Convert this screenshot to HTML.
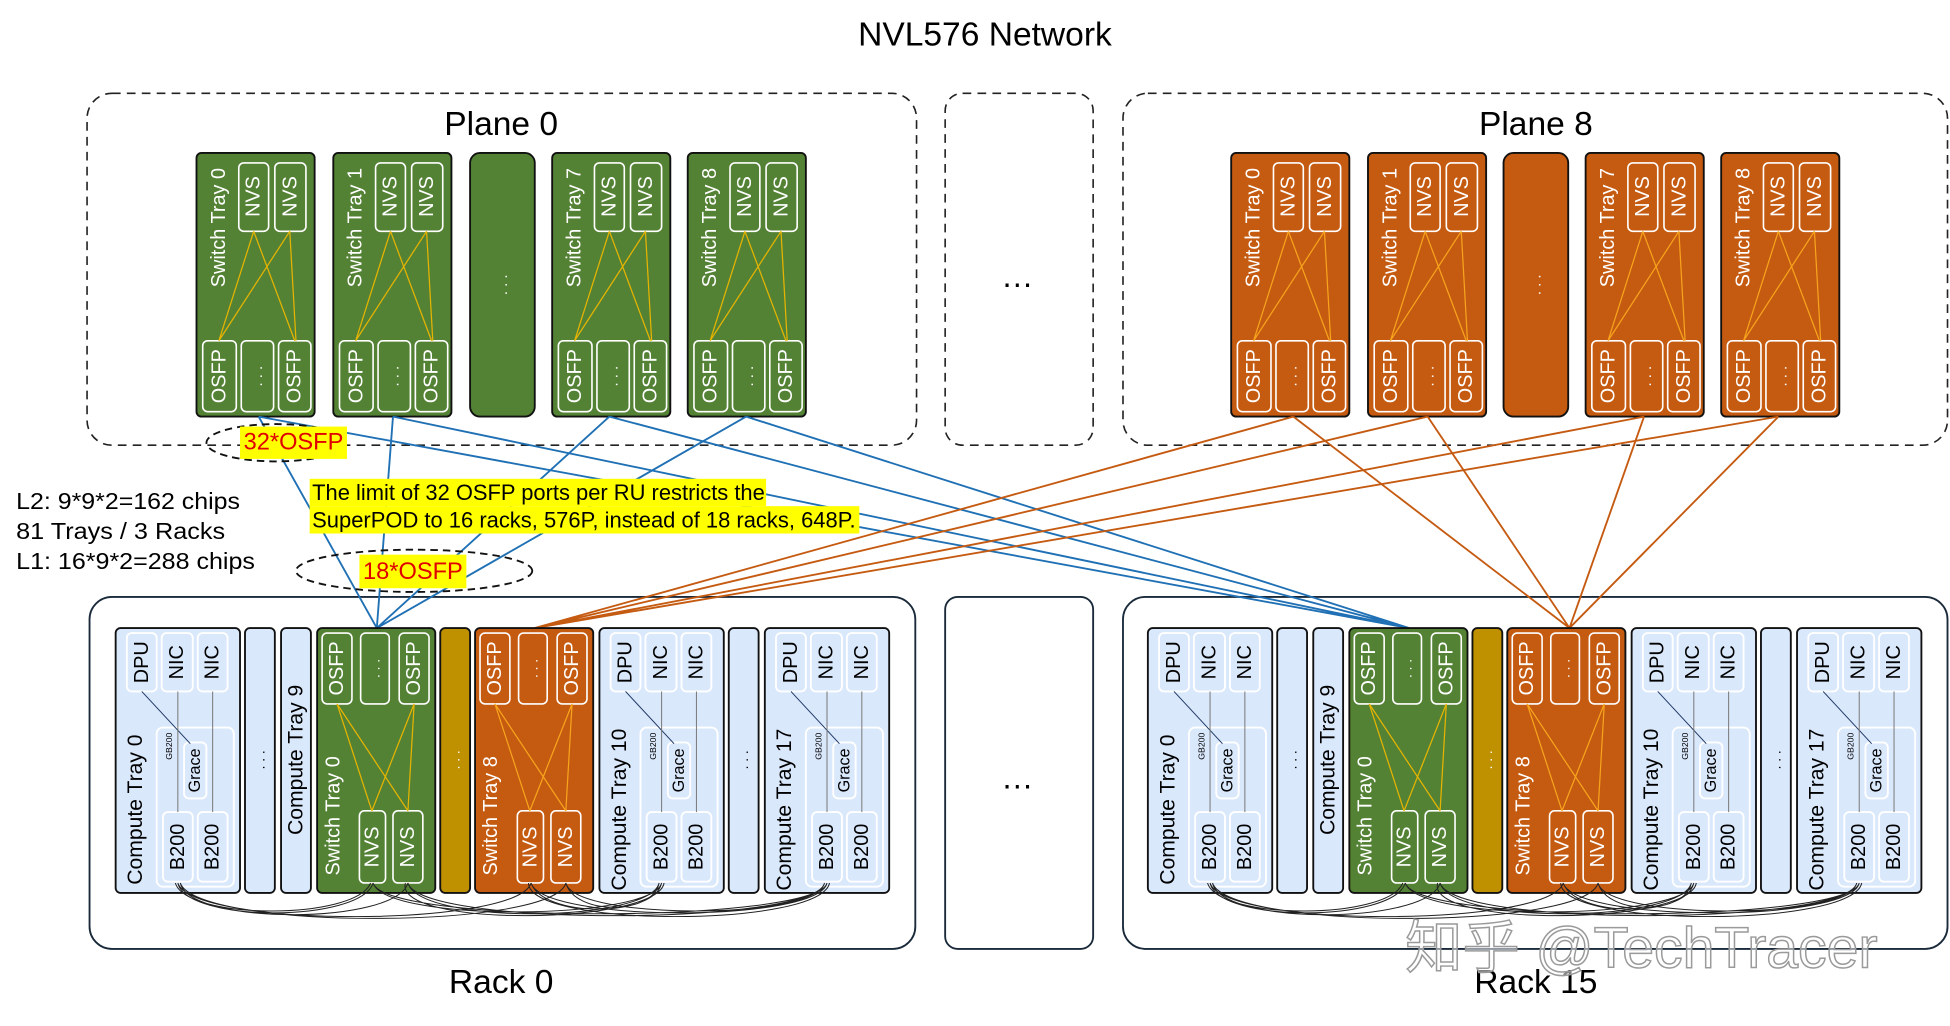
<!DOCTYPE html>
<html><head><meta charset="utf-8"><style>
html,body{margin:0;padding:0;background:#fff;}
svg{display:block;}
text{font-family:"Liberation Sans","Noto Sans CJK SC",sans-serif;}
.w{fill:#fff;font-size:16px;text-anchor:middle;dominant-baseline:central;}
.k{fill:#000;font-size:17px;text-anchor:middle;dominant-baseline:central;}
.ib{fill:none;stroke:#fff;stroke-width:1.3;}
.ibb{fill:#dae8fc;stroke:#fff;stroke-width:1.5;}
.g{fill:#548235;stroke:#111;stroke-width:1.5;}
.o{fill:#c55a11;stroke:#111;stroke-width:1.5;}
.c{fill:#dae8fc;stroke:#111;stroke-width:1.5;}
.yl{stroke:#e6b400;stroke-width:1;fill:none;}
.ol{stroke:#f7a41d;stroke-width:1;fill:none;}
.bl{stroke:#1f70b4;stroke-width:1.5;fill:none;}
.rl{stroke:#c55a11;stroke-width:1.5;fill:none;}
.cv{stroke:#222;stroke-width:0.8;fill:none;}
</style></head><body>
<svg width="1950" height="1026" viewBox="0 0 1568 825" preserveAspectRatio="none" xmlns="http://www.w3.org/2000/svg">
<defs>
<g id="ptG">
<rect x="0" y="123" width="95" height="212" rx="4" class="g"/>
<rect x="34" y="131" width="24" height="55" rx="4" class="ib"/>
<rect x="63" y="131" width="25" height="55" rx="4" class="ib"/>
<rect x="5" y="274" width="27" height="57" rx="4" class="ib"/>
<rect x="36" y="274" width="26" height="57" rx="4" class="ib"/>
<rect x="66" y="274" width="26" height="57" rx="4" class="ib"/>
<path class="yl" d="M46 186L18 274M46 186L79 274M75 186L18 274M75 186L80 274"/>
</g>
<g id="ptO">
<rect x="0" y="123" width="95" height="212" rx="4" class="o"/>
<rect x="34" y="131" width="24" height="55" rx="4" class="ib"/>
<rect x="63" y="131" width="25" height="55" rx="4" class="ib"/>
<rect x="5" y="274" width="27" height="57" rx="4" class="ib"/>
<rect x="36" y="274" width="26" height="57" rx="4" class="ib"/>
<rect x="66" y="274" width="26" height="57" rx="4" class="ib"/>
<path class="ol" d="M46 186L18 274M46 186L79 274M75 186L18 274M75 186L80 274"/>
</g>
<g id="rsG">
<rect x="0" y="505" width="95" height="213" rx="4" class="g"/>
<rect x="4" y="509" width="24" height="57" rx="4" class="ib"/>
<rect x="35" y="509" width="23" height="57" rx="4" class="ib"/>
<rect x="66" y="509" width="24" height="57" rx="4" class="ib"/>
<rect x="34" y="652" width="21" height="58" rx="4" class="ib"/>
<rect x="61" y="652" width="24" height="58" rx="4" class="ib"/>
<path class="yl" d="M16 566L44 652M16 566L73 652M78 566L44 652M78 566L73 652"/>
</g>
<g id="rsO">
<rect x="0" y="505" width="95" height="213" rx="4" class="o"/>
<rect x="4" y="509" width="24" height="57" rx="4" class="ib"/>
<rect x="35" y="509" width="23" height="57" rx="4" class="ib"/>
<rect x="66" y="509" width="24" height="57" rx="4" class="ib"/>
<rect x="34" y="652" width="21" height="58" rx="4" class="ib"/>
<rect x="61" y="652" width="24" height="58" rx="4" class="ib"/>
<path class="ol" d="M16 566L44 652M16 566L73 652M78 566L44 652M78 566L73 652"/>
</g>
<g id="ct">
<rect x="0" y="505" width="100" height="213" rx="4" class="c"/>
<rect x="9" y="509" width="24" height="47" rx="4" class="ibb"/>
<rect x="37" y="509" width="25" height="47" rx="4" class="ibb"/>
<rect x="66" y="509" width="24" height="47" rx="4" class="ibb"/>
<rect x="33" y="585" width="62" height="128" rx="5" class="ibb"/>
<rect x="55" y="597" width="18" height="45" rx="4" class="ibb"/>
<rect x="38" y="653" width="24" height="56" rx="4" class="ibb"/>
<rect x="66" y="653" width="24" height="56" rx="4" class="ibb"/>
<path d="M21 556L60 598" stroke="#1f3864" stroke-width="0.8"/>
<path d="M50 556V653M78 556V653" stroke="#777" stroke-width="0.8"/>
</g>
</defs>

<text x="792" y="28" class="k" style="font-size:27px">NVL576 Network</text>

<rect x="70" y="75" width="667" height="283" rx="20" fill="none" stroke="#222" stroke-width="1.3" stroke-dasharray="7,5"/>
<rect x="760" y="75" width="119" height="283" rx="14" fill="none" stroke="#222" stroke-width="1.3" stroke-dasharray="7,5"/>
<rect x="903" y="75" width="663" height="283" rx="20" fill="none" stroke="#222" stroke-width="1.3" stroke-dasharray="7,5"/>
<text x="403" y="100" class="k" style="font-size:27px">Plane 0</text>
<text x="1235" y="100" class="k" style="font-size:27px">Plane 8</text>
<text x="818" y="222" class="k" style="font-size:26px">…</text>

<g transform="translate(158,0)"><use href="#ptG"/><text class="w" transform="translate(18,183) rotate(-90)">Switch Tray 0</text><text class="w" transform="translate(46,158) rotate(-90)">NVS</text><text class="w" transform="translate(75.5,158) rotate(-90)">NVS</text><text class="w" transform="translate(18.5,302.5) rotate(-90)">OSFP</text><text class="w" transform="translate(49,302.5) rotate(-90)" style="font-size:12px">. . .</text><text class="w" transform="translate(79,302.5) rotate(-90)">OSFP</text></g>
<g transform="translate(268,0)"><use href="#ptG"/><text class="w" transform="translate(18,183) rotate(-90)">Switch Tray 1</text><text class="w" transform="translate(46,158) rotate(-90)">NVS</text><text class="w" transform="translate(75.5,158) rotate(-90)">NVS</text><text class="w" transform="translate(18.5,302.5) rotate(-90)">OSFP</text><text class="w" transform="translate(49,302.5) rotate(-90)" style="font-size:12px">. . .</text><text class="w" transform="translate(79,302.5) rotate(-90)">OSFP</text></g>
<rect x="378" y="123" width="52" height="212" rx="8" class="g"/><text class="w" transform="translate(404,229) rotate(-90)" style="font-size:12px">. . .</text>
<g transform="translate(444,0)"><use href="#ptG"/><text class="w" transform="translate(18,183) rotate(-90)">Switch Tray 7</text><text class="w" transform="translate(46,158) rotate(-90)">NVS</text><text class="w" transform="translate(75.5,158) rotate(-90)">NVS</text><text class="w" transform="translate(18.5,302.5) rotate(-90)">OSFP</text><text class="w" transform="translate(49,302.5) rotate(-90)" style="font-size:12px">. . .</text><text class="w" transform="translate(79,302.5) rotate(-90)">OSFP</text></g>
<g transform="translate(553,0)"><use href="#ptG"/><text class="w" transform="translate(18,183) rotate(-90)">Switch Tray 8</text><text class="w" transform="translate(46,158) rotate(-90)">NVS</text><text class="w" transform="translate(75.5,158) rotate(-90)">NVS</text><text class="w" transform="translate(18.5,302.5) rotate(-90)">OSFP</text><text class="w" transform="translate(49,302.5) rotate(-90)" style="font-size:12px">. . .</text><text class="w" transform="translate(79,302.5) rotate(-90)">OSFP</text></g>

<g transform="translate(990,0)"><use href="#ptO"/><text class="w" transform="translate(18,183) rotate(-90)">Switch Tray 0</text><text class="w" transform="translate(46,158) rotate(-90)">NVS</text><text class="w" transform="translate(75.5,158) rotate(-90)">NVS</text><text class="w" transform="translate(18.5,302.5) rotate(-90)">OSFP</text><text class="w" transform="translate(49,302.5) rotate(-90)" style="font-size:12px">. . .</text><text class="w" transform="translate(79,302.5) rotate(-90)">OSFP</text></g>
<g transform="translate(1100,0)"><use href="#ptO"/><text class="w" transform="translate(18,183) rotate(-90)">Switch Tray 1</text><text class="w" transform="translate(46,158) rotate(-90)">NVS</text><text class="w" transform="translate(75.5,158) rotate(-90)">NVS</text><text class="w" transform="translate(18.5,302.5) rotate(-90)">OSFP</text><text class="w" transform="translate(49,302.5) rotate(-90)" style="font-size:12px">. . .</text><text class="w" transform="translate(79,302.5) rotate(-90)">OSFP</text></g>
<rect x="1209" y="123" width="52" height="212" rx="8" class="o"/><text class="w" transform="translate(1235,229) rotate(-90)" style="font-size:12px">. . .</text>
<g transform="translate(1275,0)"><use href="#ptO"/><text class="w" transform="translate(18,183) rotate(-90)">Switch Tray 7</text><text class="w" transform="translate(46,158) rotate(-90)">NVS</text><text class="w" transform="translate(75.5,158) rotate(-90)">NVS</text><text class="w" transform="translate(18.5,302.5) rotate(-90)">OSFP</text><text class="w" transform="translate(49,302.5) rotate(-90)" style="font-size:12px">. . .</text><text class="w" transform="translate(79,302.5) rotate(-90)">OSFP</text></g>
<g transform="translate(1384,0)"><use href="#ptO"/><text class="w" transform="translate(18,183) rotate(-90)">Switch Tray 8</text><text class="w" transform="translate(46,158) rotate(-90)">NVS</text><text class="w" transform="translate(75.5,158) rotate(-90)">NVS</text><text class="w" transform="translate(18.5,302.5) rotate(-90)">OSFP</text><text class="w" transform="translate(49,302.5) rotate(-90)" style="font-size:12px">. . .</text><text class="w" transform="translate(79,302.5) rotate(-90)">OSFP</text></g>

<rect x="72" y="480" width="664" height="283" rx="18" fill="none" stroke="#1a2a3a" stroke-width="1.5"/>
<rect x="760" y="480" width="119" height="283" rx="10" fill="none" stroke="#1a2a3a" stroke-width="1.5"/>
<rect x="903" y="480" width="663" height="283" rx="18" fill="none" stroke="#1a2a3a" stroke-width="1.5"/>
<text x="818" y="625" class="k" style="font-size:26px">…</text>

<path class="bl" d="M208 335L303 505M316 335L303 505M490 335L303 505M600 335L303 505M208 335L1133 505M316 335L1133 505M490 335L1133 505M600 335L1133 505"/>
<path class="rl" d="M1040 335L430 505M1148 335L430 505M1322 335L430 505M1430 335L430 505M1040 335L1262 505M1148 335L1262 505M1322 335L1262 505M1430 335L1262 505"/>

<ellipse cx="222" cy="356" rx="56" ry="15" fill="none" stroke="#111" stroke-width="1.5" stroke-dasharray="6,4"/>
<rect x="193" y="343" width="86" height="26" fill="#ffff00"/>
<text x="236" y="356" style="font-size:19px;fill:#e00000;text-anchor:middle;dominant-baseline:central">32*OSFP</text>
<ellipse cx="333" cy="459" rx="95" ry="17" fill="none" stroke="#111" stroke-width="1.5" stroke-dasharray="6,4"/>
<rect x="289" y="446" width="86" height="27" fill="#ffff00"/>
<text x="332" y="460" style="font-size:19px;fill:#e00000;text-anchor:middle;dominant-baseline:central">18*OSFP</text>
<rect x="249" y="385" width="367" height="22" fill="#ffff00"/>
<rect x="249" y="407" width="442" height="22" fill="#ffff00"/>
<text x="251" y="396" style="font-size:17.5px;dominant-baseline:central" textLength="364" lengthAdjust="spacingAndGlyphs">The limit of 32 OSFP ports per RU restricts the</text>
<text x="251" y="418" style="font-size:17.5px;dominant-baseline:central" textLength="437" lengthAdjust="spacingAndGlyphs">SuperPOD to 16 racks, 576P, instead of 18 racks, 648P.</text>
<text x="13" y="403" style="font-size:18.5px;dominant-baseline:central" textLength="180" lengthAdjust="spacingAndGlyphs">L2: 9*9*2=162 chips</text>
<text x="13" y="427" style="font-size:18.5px;dominant-baseline:central" textLength="168" lengthAdjust="spacingAndGlyphs">81 Trays  / 3 Racks</text>
<text x="13" y="451" style="font-size:18.5px;dominant-baseline:central" textLength="192" lengthAdjust="spacingAndGlyphs">L1: 16*9*2=288 chips</text>

<g id="rack">
<g transform="translate(93,0)"><use href="#ct"/><text class="k" transform="translate(16,651) rotate(-90)">Compute Tray 0</text><text class="k" transform="translate(21,532.5) rotate(-90)" style="font-size:16px">DPU</text><text class="k" transform="translate(49.5,532.5) rotate(-90)" style="font-size:16px">NIC</text><text class="k" transform="translate(78,532.5) rotate(-90)" style="font-size:16px">NIC</text><text class="k" transform="translate(43,600) rotate(-90)" style="font-size:7px">GB200</text><text class="k" transform="translate(64,619.5) rotate(-90)" style="font-size:13px">Grace</text><text class="k" transform="translate(50,681) rotate(-90)" style="font-size:16px">B200</text><text class="k" transform="translate(78,681) rotate(-90)" style="font-size:16px">B200</text></g>
<rect x="197" y="505" width="24" height="213" rx="4" class="c"/><text class="k" transform="translate(209,611) rotate(-90)" style="font-size:11px">. . .</text>
<rect x="226" y="505" width="24" height="213" rx="4" class="c"/><text class="k" transform="translate(238,611) rotate(-90)">Compute Tray 9</text>
<g transform="translate(255,0)"><use href="#rsG"/><text class="w" transform="translate(13,656) rotate(-90)">Switch Tray 0</text><text class="w" transform="translate(16,537.5) rotate(-90)">OSFP</text><text class="w" transform="translate(46.5,537.5) rotate(-90)" style="font-size:11px">. . .</text><text class="w" transform="translate(78,537.5) rotate(-90)">OSFP</text><text class="w" transform="translate(44.5,681) rotate(-90)">NVS</text><text class="w" transform="translate(73,681) rotate(-90)">NVS</text></g>
<rect x="354" y="505" width="24" height="213" rx="4" fill="#bf9000" stroke="#111" stroke-width="1.5"/><text class="w" transform="translate(366,611) rotate(-90)" style="font-size:11px">. . .</text>
<g transform="translate(382,0)"><use href="#rsO"/><text class="w" transform="translate(13,656) rotate(-90)">Switch Tray 8</text><text class="w" transform="translate(16,537.5) rotate(-90)">OSFP</text><text class="w" transform="translate(46.5,537.5) rotate(-90)" style="font-size:11px">. . .</text><text class="w" transform="translate(78,537.5) rotate(-90)">OSFP</text><text class="w" transform="translate(44.5,681) rotate(-90)">NVS</text><text class="w" transform="translate(73,681) rotate(-90)">NVS</text></g>
<g transform="translate(482,0)"><use href="#ct"/><text class="k" transform="translate(16,651) rotate(-90)">Compute Tray 10</text><text class="k" transform="translate(21,532.5) rotate(-90)" style="font-size:16px">DPU</text><text class="k" transform="translate(49.5,532.5) rotate(-90)" style="font-size:16px">NIC</text><text class="k" transform="translate(78,532.5) rotate(-90)" style="font-size:16px">NIC</text><text class="k" transform="translate(43,600) rotate(-90)" style="font-size:7px">GB200</text><text class="k" transform="translate(64,619.5) rotate(-90)" style="font-size:13px">Grace</text><text class="k" transform="translate(50,681) rotate(-90)" style="font-size:16px">B200</text><text class="k" transform="translate(78,681) rotate(-90)" style="font-size:16px">B200</text></g>
<rect x="586" y="505" width="24" height="213" rx="4" class="c"/><text class="k" transform="translate(598,611) rotate(-90)" style="font-size:11px">. . .</text>
<g transform="translate(615,0)"><use href="#ct"/><text class="k" transform="translate(16,651) rotate(-90)">Compute Tray 17</text><text class="k" transform="translate(21,532.5) rotate(-90)" style="font-size:16px">DPU</text><text class="k" transform="translate(49.5,532.5) rotate(-90)" style="font-size:16px">NIC</text><text class="k" transform="translate(78,532.5) rotate(-90)" style="font-size:16px">NIC</text><text class="k" transform="translate(43,600) rotate(-90)" style="font-size:7px">GB200</text><text class="k" transform="translate(64,619.5) rotate(-90)" style="font-size:13px">Grace</text><text class="k" transform="translate(50,681) rotate(-90)" style="font-size:16px">B200</text><text class="k" transform="translate(78,681) rotate(-90)" style="font-size:16px">B200</text></g>
<path class="cv" d="M143 710C150 742 290 742 300 710M145 710C152 744 318 744 328 710M143 710C155 746 416 746 427 710M145 710C158 748 445 748 455 710
M532 710C525 740 310 742 300 710M530 710C522 742 338 744 328 710M532 710C526 738 437 738 427 710M530 710C525 736 462 736 455 710
M665 710C658 742 310 744 300 710M663 710C656 744 338 746 328 710M665 710C658 742 437 742 427 710M663 710C656 740 462 740 455 710
M141 710C150 740 286 740 298 710M534 710C528 744 316 746 326 710M667 710C660 746 425 746 425 710"/>
</g>
<text x="403" y="790" class="k" style="font-size:27px">Rack 0</text>

<g transform="translate(830,0)"><use href="#rack"/></g>
<text x="1235" y="790" class="k" style="font-size:27px">Rack 15</text>

<text x="1130" y="778" style="font-size:46px;fill:#fff;fill-opacity:0.5;stroke:#9a9a9a;stroke-width:1.2">知乎 @TechTracer</text>
</svg>
</body></html>
